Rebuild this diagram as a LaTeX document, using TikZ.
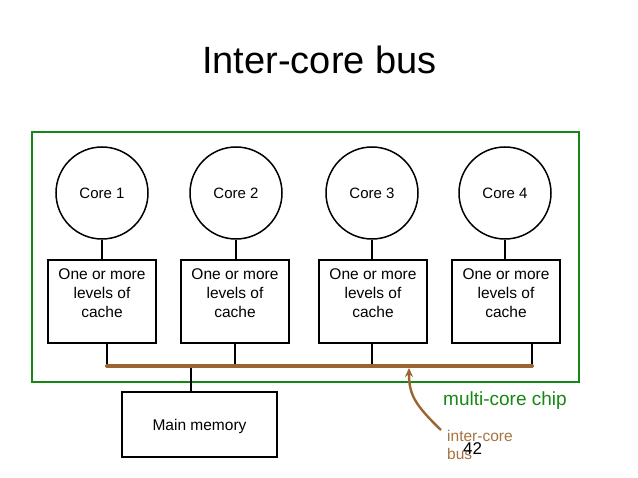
\documentclass[tikz,border=0pt]{standalone}
\usepackage{fontspec}
\setmainfont{Liberation Sans}
\usetikzlibrary{arrows.meta}
\definecolor{chipgreen}{RGB}{20,135,20}
\definecolor{busbrown}{RGB}{156,100,48}
\definecolor{lblbrown}{RGB}{165,115,65}
\tikzset{
  core/.style={circle,draw=black,line width=1.5pt,minimum size=92pt,inner sep=0pt,font=\fontsize{15}{18}\selectfont},
  cachebox/.style={rectangle,draw=black,line width=1.5pt,minimum width=108pt,minimum height=83pt,inner sep=0pt},
  cachetext/.style={align=center,inner sep=0pt,font=\fontsize{15.5}{19}\selectfont},
  membox/.style={rectangle,draw=black,line width=1.5pt,minimum width=155pt,minimum height=65pt,inner sep=0pt,font=\fontsize{15.5}{19}\selectfont,text depth=-8pt},
  wire/.style={draw=black,line width=1.5pt},
  buswire/.style={draw=busbrown,line width=4pt},
}
\begin{document}
\begin{tikzpicture}[x=1pt,y=-1pt]
\useasboundingbox (0,0) rectangle (638,478);
\node[font=\fontsize{38}{44}\selectfont,anchor=base] (title) at (319.5,74) {Inter-core bus};
\node[draw=chipgreen,line width=1.6pt,minimum width=547pt,minimum height=250pt,inner sep=0pt] (chip) at (305.5,257) {};
\node[core] (c1) at (102,193) {Core 1};
\node[core] (c2) at (236,193) {Core 2};
\node[core] (c3) at (372,193) {Core 3};
\node[core] (c4) at (505,193) {Core 4};
\node[cachebox] (k1) at (102,301.5) {};
\node[cachebox] (k2) at (235,301.5) {};
\node[cachebox] (k3) at (373,301.5) {};
\node[cachebox] (k4) at (506,301.5) {};
\foreach \i in {1,2,3,4} {
  \node[cachetext] (t\i) at ([yshift=8.5pt]k\i.center) {One or more\\levels of\\cache};
}
\node[membox] (mm) at (199.5,424.5) {Main memory};
\coordinate (busL) at (107,366);
\coordinate (busR) at (532,366);
\coordinate (tap) at (191,366);
\coordinate (arrowtail) at (441,430);
\coordinate (arrowhead) at (409,368);
\foreach \i in {1,2,3,4} { \draw[wire] (c\i.south) -- (c\i.south |- k\i.north); }
\draw[wire] (k1.south -| busL) -- (busL);
\draw[wire] (k2.south) -- (k2.south |- busL);
\draw[wire] ([xshift=-1pt]k3.south) -- ([xshift=-1pt]k3.south |- busL);
\draw[wire] (k4.south -| busR) -- (busR);
\draw[wire] (tap) -- (tap |- mm.north);
\draw[buswire,line cap=round] (busL) -- (busR);
\draw[draw=busbrown,line width=2.4pt,-{Stealth[length=9pt,width=8pt]}] (arrowtail) .. controls (414,404) and (409,394) .. (arrowhead);
\node[text=chipgreen,font=\fontsize{19}{22}\selectfont,anchor=base west,inner sep=0pt] (chiplbl) at (443,406) {multi-core chip};
\node[text=lblbrown,font=\fontsize{15.5}{18}\selectfont,anchor=base west,inner sep=0pt] (buslbl1) at (447,442) {inter-core};
\node[text=lblbrown,font=\fontsize{15.5}{18}\selectfont,anchor=base west,inner sep=0pt] (buslbl2) at (447,460) {bus};
\node[font=\fontsize{17}{20}\selectfont,anchor=base west,inner sep=0pt] (pagenum) at (463,455) {42};
\end{tikzpicture}
\end{document}
